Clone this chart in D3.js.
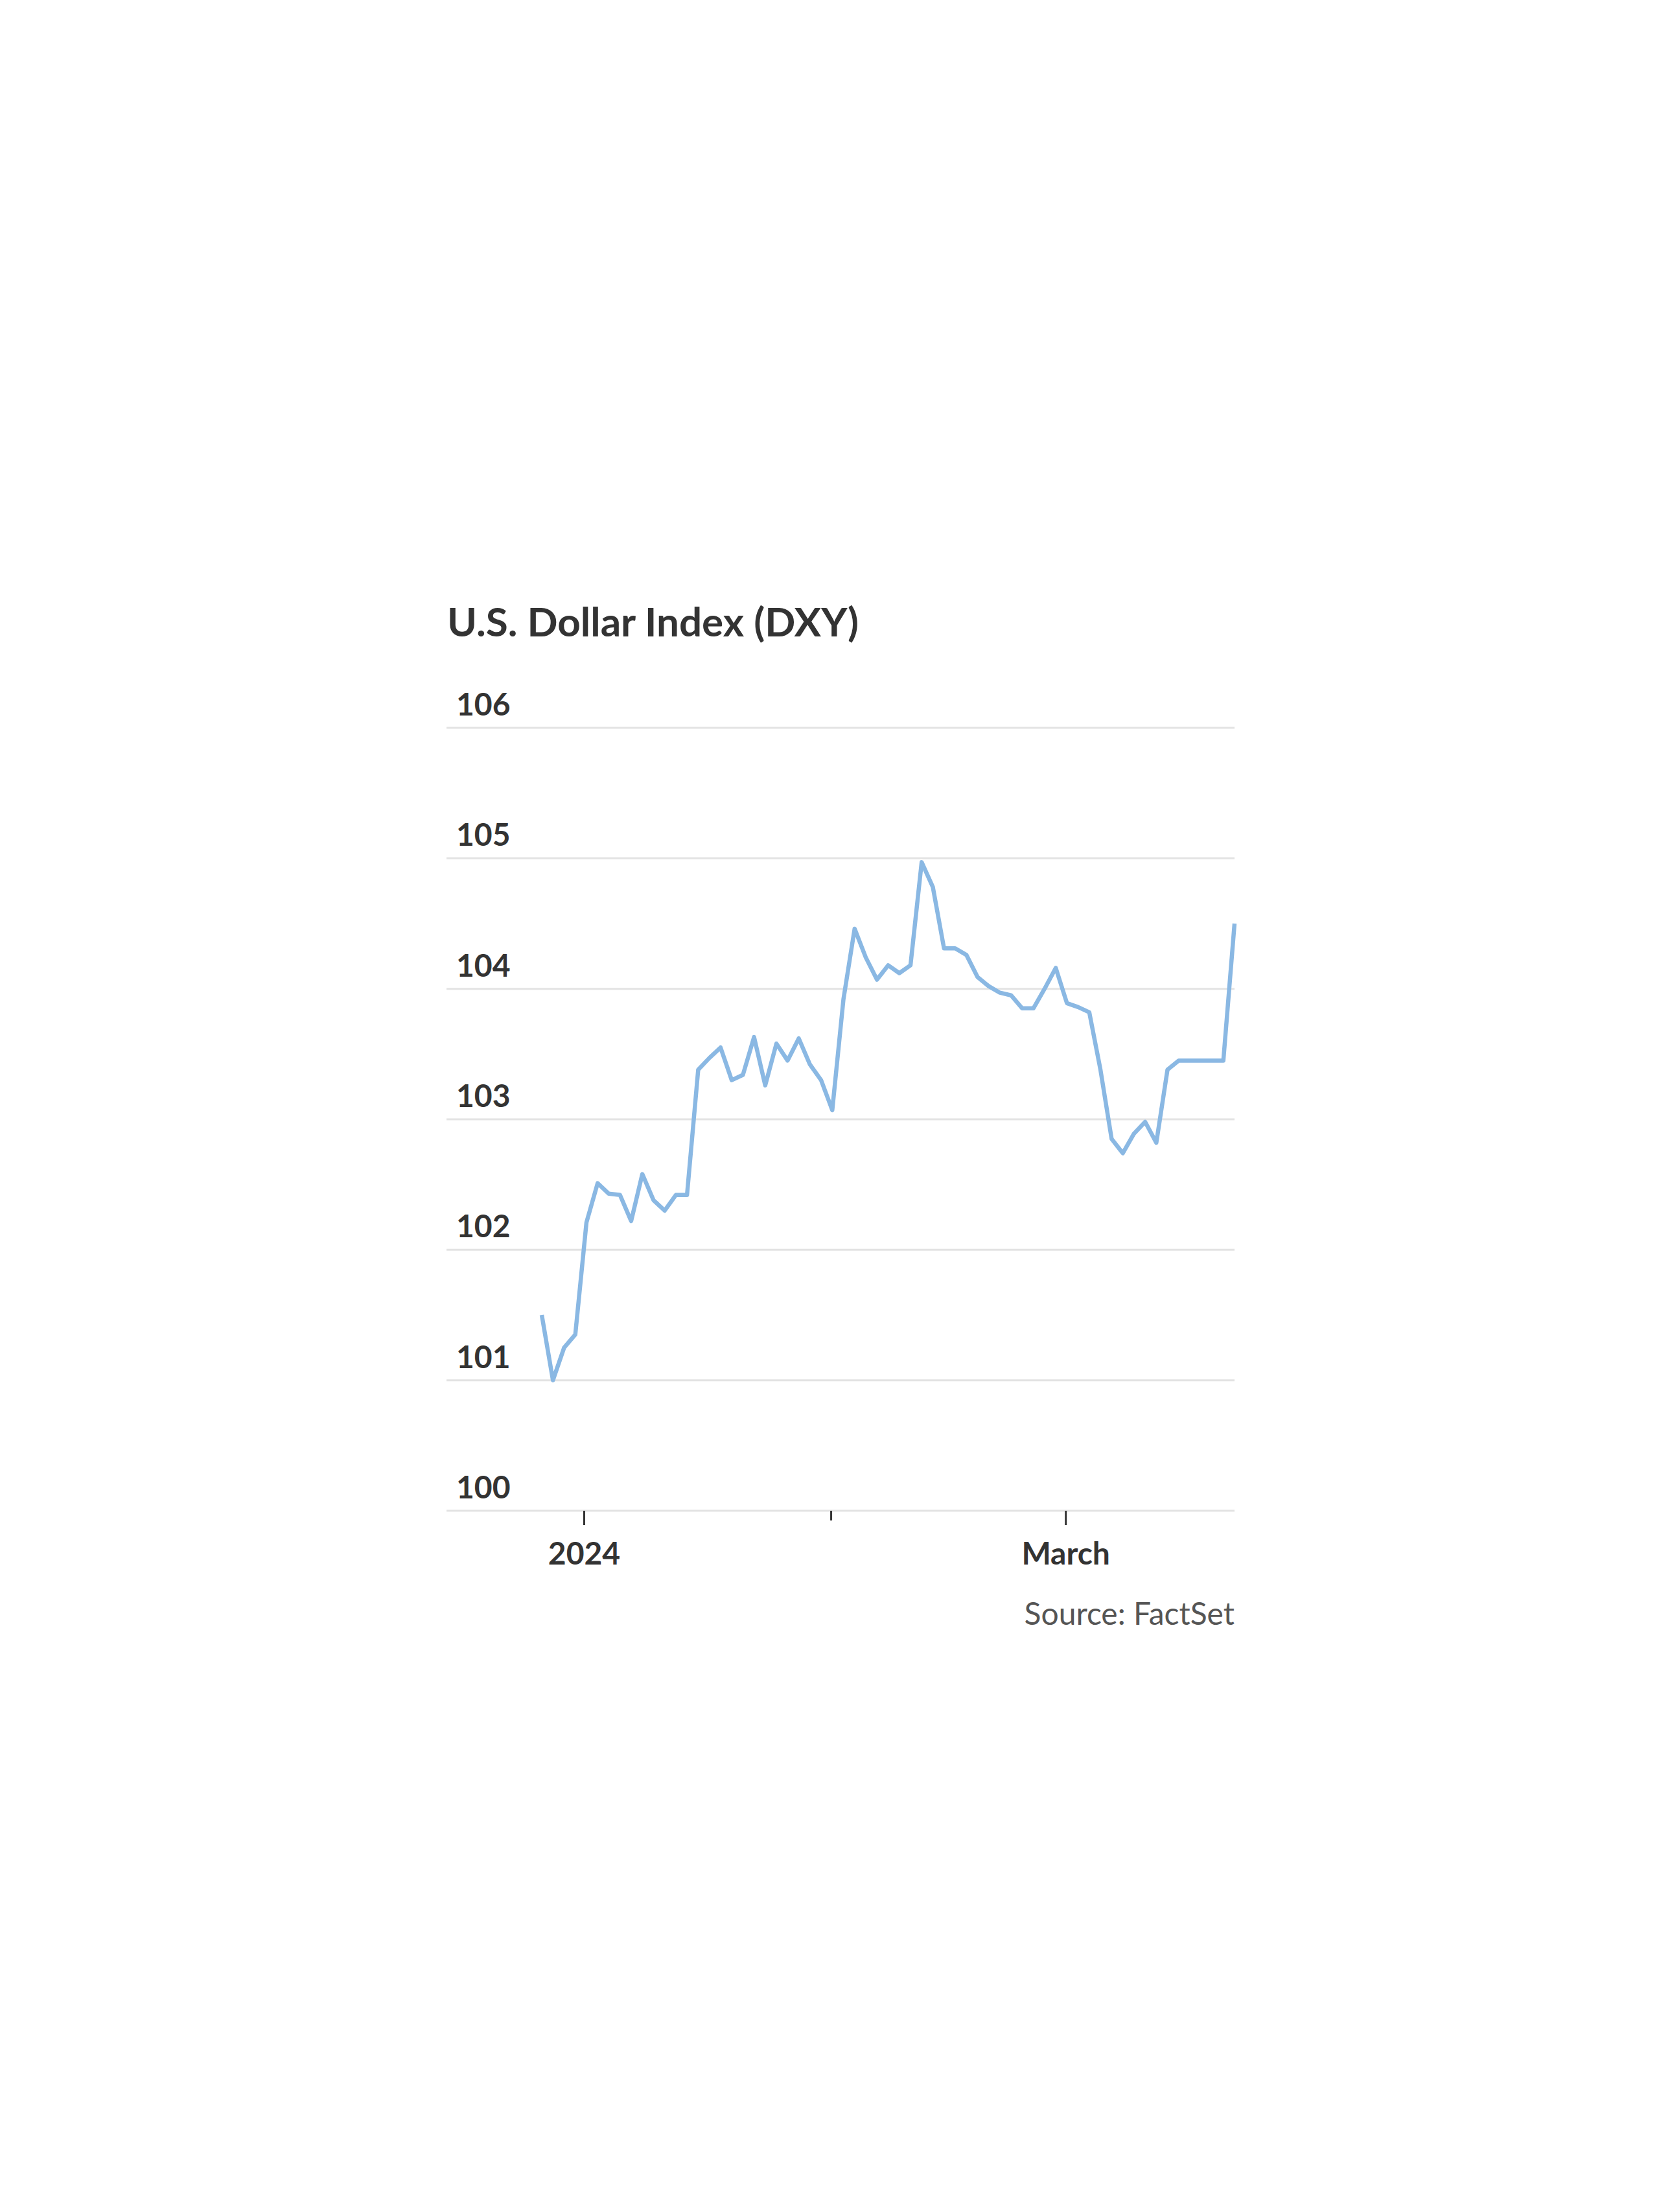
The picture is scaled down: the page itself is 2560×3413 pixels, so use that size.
<!DOCTYPE html>
<html><head><meta charset="utf-8">
<script src="https://cdn.jsdelivr.net/npm/d3@7"></script>
<style>body{margin:0;background:#fff}</style></head>
<body><script>
const values=[101.50,101.00,101.25,101.35,102.21,102.51,102.43,102.42,102.22,102.58,102.38,102.30,102.42,102.42,103.38,103.47,103.55,103.30,103.34,103.63,103.26,103.58,103.45,103.62,103.42,103.30,103.07,103.92,104.46,104.24,104.07,104.18,104.12,104.18,104.97,104.78,104.31,104.31,104.26,104.09,104.02,103.97,103.95,103.85,103.85,104.00,104.16,103.89,103.86,103.82,103.38,102.85,102.74,102.89,102.98,102.82,103.38,103.45,103.45,103.45,103.45,103.45,104.50];
const yTicks=[100,101,102,103,104,105,106];
const xTickPos=[3.8,25.9,46.9];
const xTickLabels=["2024","","March"];

const W=2560,H=3413;
const svg=d3.select("body").append("svg").attr("width",W).attr("height",H);
const left=689,right=1905;
const x=d3.scaleLinear().domain([0,values.length-1]).range([836,1905]);
const y=d3.scaleLinear().domain([100,106]).range([2331,1123]);
const font="Lato, 'Open Sans', sans-serif";

svg.append("text").attr("x",690).attr("y",982).attr("font-family",font).attr("font-weight",700)
 .attr("font-size",62).attr("fill","#333").text("U.S. Dollar Index (DXY)");

const g=svg.append("g");
yTicks.forEach(t=>{
  g.append("line").attr("x1",left).attr("x2",right).attr("y1",y(t)).attr("y2",y(t))
   .attr("stroke","#e3e3e3").attr("stroke-width",3);
  g.append("text").attr("x",704).attr("y",y(t)-19).attr("font-family",font).attr("font-weight",700)
   .attr("font-size",48).attr("fill","#333").text(t);
});
xTickPos.forEach((p,i)=>{
  g.append("line").attr("x1",x(p)).attr("x2",x(p)).attr("y1",y(100)).attr("y2",y(100)+(i===1?15:22))
   .attr("stroke","#333").attr("stroke-width",3);
  g.append("text").attr("x",x(p)).attr("y",2414).attr("text-anchor","middle").attr("font-family",font)
   .attr("font-weight",700).attr("font-size",48).attr("fill","#333").text(xTickLabels[i]);
});
svg.append("path").datum(values).attr("fill","none").attr("stroke","#8ab8e3").attr("stroke-width",6.5)
 .attr("stroke-linejoin","round")
 .attr("d",d3.line().x((d,i)=>x(i)).y(d=>y(d)));
svg.append("text").attr("x",1905).attr("y",2507).attr("text-anchor","end").attr("font-family",font)
 .attr("font-size",48).attr("fill","#555").text("Source: FactSet");
</script></body></html>
